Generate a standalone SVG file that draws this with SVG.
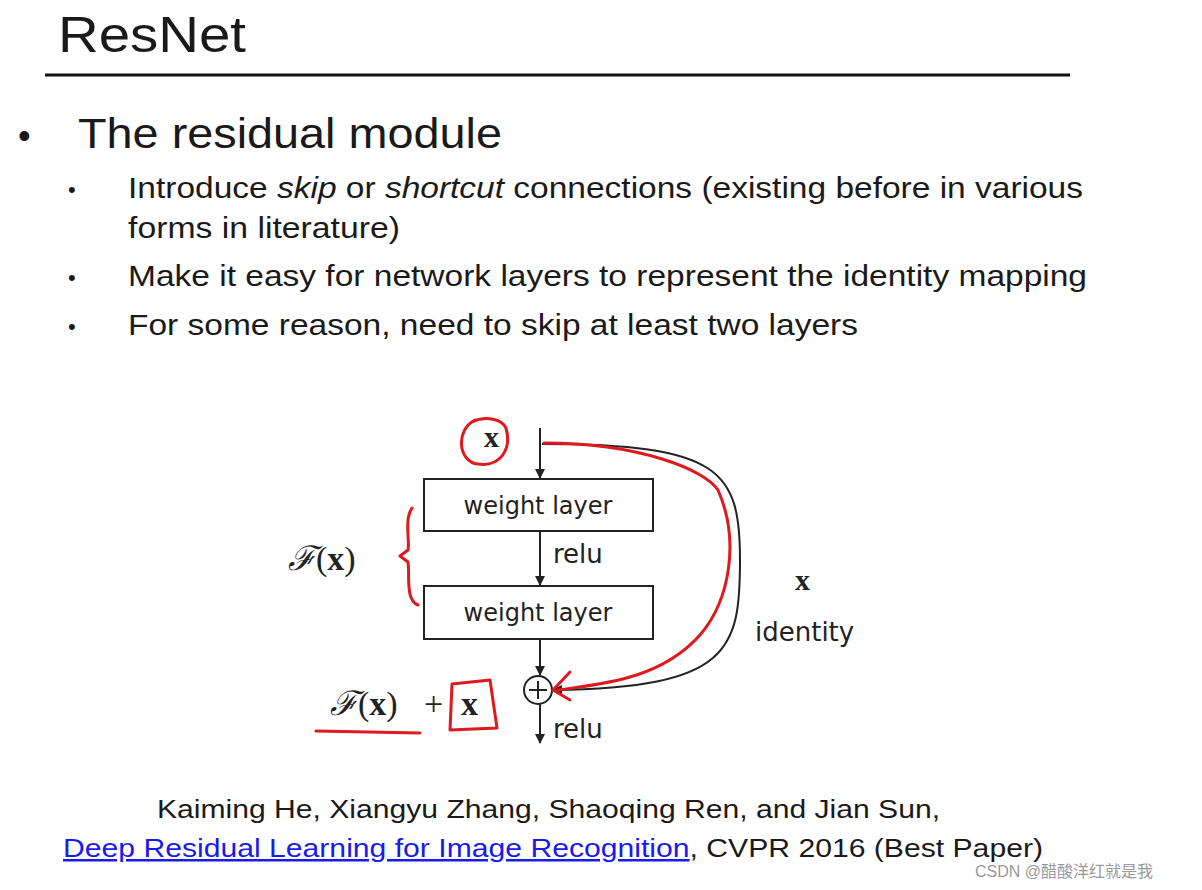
<svg xmlns="http://www.w3.org/2000/svg" width="1202" height="890" viewBox="0 0 1202 890">
<defs>
<style>
.t{font-family:"Liberation Sans",Arial,sans-serif;fill:#1a1a1a}
.c{font-family:"DejaVu Sans",sans-serif;fill:#222}
.m{font-family:"Liberation Serif","Times New Roman",serif;fill:#222}
.box{fill:#fff;stroke:#222;stroke-width:2}
.ln{stroke:#222;stroke-width:2;fill:none}
.red{stroke:#e0191e;stroke-width:3;fill:none;stroke-linecap:round;stroke-linejoin:round}
</style>
<marker id="ah" markerWidth="10" markerHeight="10" refX="9" refY="5" orient="auto" markerUnits="userSpaceOnUse"><path d="M0,0 L10,5 L0,10 Z" fill="#222"/></marker>
</defs>
<rect width="1202" height="890" fill="#fff"/>
<text class="t" x="58" y="52" font-size="50" textLength="188" lengthAdjust="spacingAndGlyphs">ResNet</text>
<line x1="45" y1="75" x2="1070" y2="75" stroke="#111" stroke-width="3"/>
<text class="t" x="18" y="148" font-size="36">•</text>
<text class="t" x="78" y="148" font-size="42" textLength="424" lengthAdjust="spacingAndGlyphs">The residual module</text>
<g class="t" font-size="29">
<text x="68" y="197" font-size="22">•</text>
<text x="128" y="198" textLength="955" lengthAdjust="spacingAndGlyphs">Introduce <tspan font-style="italic">skip</tspan> or <tspan font-style="italic">shortcut</tspan> connections (existing before in various</text>
<text x="128" y="238" textLength="272" lengthAdjust="spacingAndGlyphs">forms in literature)</text>
<text x="68" y="285" font-size="22">•</text>
<text x="128" y="286" textLength="959" lengthAdjust="spacingAndGlyphs">Make it easy for network layers to represent the identity mapping</text>
<text x="68" y="334" font-size="22">•</text>
<text x="128" y="335" textLength="730" lengthAdjust="spacingAndGlyphs">For some reason, need to skip at least two layers</text>
</g>
<g id="connectors">
<line class="ln" x1="540" y1="428" x2="540" y2="478" marker-end="url(#ah)"/>
<line class="ln" x1="540" y1="531" x2="540" y2="585" marker-end="url(#ah)"/>
<line class="ln" x1="540" y1="639" x2="540" y2="675" marker-end="url(#ah)"/>
<line class="ln" x1="540" y1="704" x2="540" y2="743" marker-end="url(#ah)"/>
<path class="ln" d="M542,444 C720,444 740,470 740,560 C740,650 730,688 553,690" marker-end="url(#ah)"/>
</g>
<g id="box1"><rect class="box" x="424" y="479" width="229" height="52"/><text class="c" x="538" y="514" font-size="24" text-anchor="middle">weight layer</text></g>
<g id="box2"><rect class="box" x="424" y="586" width="229" height="53"/><text class="c" x="538" y="621" font-size="24" text-anchor="middle">weight layer</text></g>
<g id="sum"><circle cx="538" cy="690" r="14" fill="#fff" stroke="#222" stroke-width="2"/><line class="ln" x1="529" y1="690" x2="547" y2="690"/><line class="ln" x1="538" y1="681" x2="538" y2="699"/></g>
<text class="c" x="553" y="563" font-size="26">relu</text>
<text class="c" x="553" y="738" font-size="26">relu</text>
<text class="m" x="795" y="590" font-size="30" font-weight="bold">x</text>
<text class="c" x="755" y="641" font-size="26">identity</text>
<text class="m" x="288" y="570" font-size="34"><tspan font-style="italic" font-family="DejaVu Serif,serif">ℱ</tspan>(<tspan font-weight="bold">x</tspan>)</text>
<text class="m" x="330" y="715" font-size="34"><tspan font-style="italic" font-family="DejaVu Serif,serif">ℱ</tspan>(<tspan font-weight="bold">x</tspan>)</text>
<text class="m" x="424" y="715" font-size="34" fill="#999">+</text>
<text class="m" x="461" y="715" font-size="34" font-weight="bold">x</text>
<text class="m" x="484" y="447" font-size="30" font-weight="bold">x</text>
<g id="red-marks">
<path class="red" d="M475,420 C455,430 458,462 478,464 C500,467 512,450 506,428 C501,418 484,416 472,422"/>
<path class="red" d="M544,443 C640,443 705,470 718,490 C740,540 730,600 700,635 C660,680 600,684 558,690"/>
<path class="red" d="M570,672 L553,690 L570,700"/>
<path class="red" d="M412,508 C404,520 410,540 408,550 L400,556 L408,562 C410,575 405,600 418,605"/>
<path class="red" d="M316,731 L420,733"/>
<path class="red" d="M452,684 L490,680 L497,728 L450,730 Z"/>
</g>
<text class="t" x="157" y="818" font-size="25" textLength="783" lengthAdjust="spacingAndGlyphs">Kaiming He, Xiangyu Zhang, Shaoqing Ren, and Jian Sun,</text>
<text class="t" x="63" y="857" font-size="25" textLength="980" lengthAdjust="spacingAndGlyphs"><tspan fill="#1a1aee" text-decoration="underline">Deep Residual Learning for Image Recognition</tspan>, CVPR 2016 (Best Paper)</text>
<text x="975" y="877" font-size="16" fill="#999" font-family="Liberation Sans,Noto Sans CJK SC,sans-serif">CSDN @醋酸洋红就是我</text>
</svg>
